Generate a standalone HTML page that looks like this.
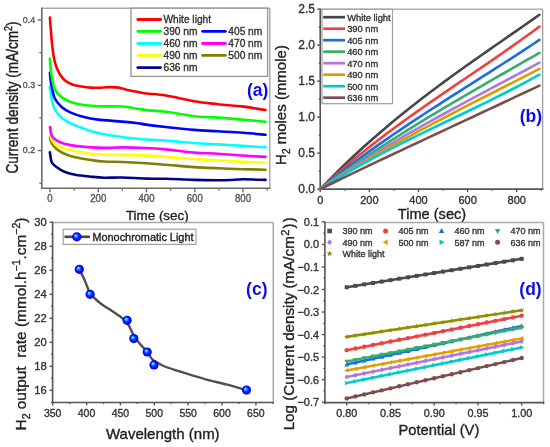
<!DOCTYPE html>
<html><head><meta charset="utf-8"><style>
html,body{margin:0;padding:0;background:#fff;}
body{width:550px;height:447px;overflow:hidden;}
svg{display:block;filter:blur(0.4px);font-family:"Liberation Sans", sans-serif;}
</style></head><body>
<svg width="550" height="447" viewBox="0 0 550 447">
<rect width="550" height="447" fill="#fff"/>
<g>
<line x1="41.8" y1="8.2" x2="269.8" y2="8.2" stroke="#a8a8a8" stroke-width="1.6"/>
<line x1="269.8" y1="8.2" x2="269.8" y2="188.3" stroke="#b0b0b0" stroke-width="1.6"/>
<line x1="41.8" y1="7.4" x2="41.8" y2="189.1" stroke="#6a6a6a" stroke-width="1.6"/>
<line x1="41" y1="188.3" x2="270.6" y2="188.3" stroke="#6a6a6a" stroke-width="1.6"/>
<line x1="37.8" y1="20" x2="41.8" y2="20" stroke="#6a6a6a" stroke-width="1.4"/>
<text x="35.1" y="22.6" font-size="8.8" fill="#555" stroke="#555" stroke-width="0.35" text-anchor="end" font-weight="normal" >0.4</text>
<line x1="37.8" y1="85.3" x2="41.8" y2="85.3" stroke="#6a6a6a" stroke-width="1.4"/>
<text x="35.1" y="87.9" font-size="8.8" fill="#555" stroke="#555" stroke-width="0.35" text-anchor="end" font-weight="normal" >0.3</text>
<line x1="37.8" y1="150.6" x2="41.8" y2="150.6" stroke="#6a6a6a" stroke-width="1.4"/>
<text x="35.1" y="153.2" font-size="8.8" fill="#555" stroke="#555" stroke-width="0.35" text-anchor="end" font-weight="normal" >0.2</text>
<line x1="39.3" y1="52.65" x2="41.8" y2="52.65" stroke="#6a6a6a" stroke-width="1.2"/>
<line x1="39.3" y1="117.95" x2="41.8" y2="117.95" stroke="#6a6a6a" stroke-width="1.2"/>
<line x1="39.3" y1="183.25" x2="41.8" y2="183.25" stroke="#6a6a6a" stroke-width="1.2"/>
<line x1="50" y1="188.3" x2="50" y2="192.3" stroke="#6a6a6a" stroke-width="1.4"/>
<g transform="translate(50,201.6) scale(1,1.15)"><text x="0" y="0" font-size="9.6" fill="#555" stroke="#555" stroke-width="0.35" text-anchor="middle" font-weight="normal" >0</text></g>
<line x1="98.25" y1="188.3" x2="98.25" y2="192.3" stroke="#6a6a6a" stroke-width="1.4"/>
<g transform="translate(98.25,201.6) scale(1,1.15)"><text x="0" y="0" font-size="9.6" fill="#555" stroke="#555" stroke-width="0.35" text-anchor="middle" font-weight="normal" >200</text></g>
<line x1="146.5" y1="188.3" x2="146.5" y2="192.3" stroke="#6a6a6a" stroke-width="1.4"/>
<g transform="translate(146.5,201.6) scale(1,1.15)"><text x="0" y="0" font-size="9.6" fill="#555" stroke="#555" stroke-width="0.35" text-anchor="middle" font-weight="normal" >400</text></g>
<line x1="194.75" y1="188.3" x2="194.75" y2="192.3" stroke="#6a6a6a" stroke-width="1.4"/>
<g transform="translate(194.75,201.6) scale(1,1.15)"><text x="0" y="0" font-size="9.6" fill="#555" stroke="#555" stroke-width="0.35" text-anchor="middle" font-weight="normal" >600</text></g>
<line x1="243" y1="188.3" x2="243" y2="192.3" stroke="#6a6a6a" stroke-width="1.4"/>
<g transform="translate(243,201.6) scale(1,1.15)"><text x="0" y="0" font-size="9.6" fill="#555" stroke="#555" stroke-width="0.35" text-anchor="middle" font-weight="normal" >800</text></g>
<line x1="74.12" y1="188.3" x2="74.12" y2="190.8" stroke="#6a6a6a" stroke-width="1.2"/>
<line x1="122.38" y1="188.3" x2="122.38" y2="190.8" stroke="#6a6a6a" stroke-width="1.2"/>
<line x1="170.62" y1="188.3" x2="170.62" y2="190.8" stroke="#6a6a6a" stroke-width="1.2"/>
<line x1="218.88" y1="188.3" x2="218.88" y2="190.8" stroke="#6a6a6a" stroke-width="1.2"/>
<line x1="267.12" y1="188.3" x2="267.12" y2="190.8" stroke="#6a6a6a" stroke-width="1.2"/>
<text x="157.3" y="219.5" font-size="13.4" fill="#222" stroke="#222" stroke-width="0.35" text-anchor="middle" font-weight="normal" >Time (sec)</text>
<text transform="translate(18.3,97.5) rotate(-90) scale(1,1.22)" font-size="13.6" fill="#222" stroke="#222" stroke-width="0.35" text-anchor="middle">Current density (mA/cm<tspan dy="-5" font-size="9">2</tspan><tspan dy="5">)</tspan></text>
<path d="M49.9 152.4C50.22 154.05 50.7 159.87 51.8 162.3C52.9 164.73 54.4 165.43 56.5 167C58.6 168.57 61.27 170.4 64.4 171.7C67.53 173 70.87 173.97 75.3 174.8C79.73 175.63 86.22 176.22 91 176.7C95.78 177.18 98.83 177.57 104 177.7C109.17 177.83 115 177.35 122 177.5C129 177.65 138.67 178.38 146 178.6C153.33 178.82 158 178.58 166 178.8C174 179.02 185.33 179.67 194 179.9C202.67 180.13 212 180.18 218 180.2C224 180.22 225.83 180.15 230 180C234.17 179.85 237.08 179.32 243 179.3C248.92 179.28 261.75 179.8 265.5 179.9" fill="none" stroke="#00008a" stroke-width="2.6" stroke-linecap="round" stroke-linejoin="round"/>
<path d="M50 136.9C50.3 138 50.72 141.48 51.8 143.5C52.88 145.52 54.4 147.3 56.5 149C58.6 150.7 61.27 152.32 64.4 153.7C67.53 155.08 70.87 156.25 75.3 157.3C79.73 158.35 86.22 159.3 91 160C95.78 160.7 98.83 161.17 104 161.5C109.17 161.83 115 161.7 122 162C129 162.3 138.67 162.83 146 163.3C153.33 163.77 158 164.17 166 164.8C174 165.43 185.33 166.52 194 167.1C202.67 167.68 209.83 167.95 218 168.3C226.17 168.65 235.08 168.97 243 169.2C250.92 169.43 261.75 169.62 265.5 169.7" fill="none" stroke="#808000" stroke-width="2.6" stroke-linecap="round" stroke-linejoin="round"/>
<path d="M50 132.2C50.3 133.43 50.72 137.45 51.8 139.6C52.88 141.75 54.4 143.62 56.5 145.1C58.6 146.58 61.27 147.47 64.4 148.5C67.53 149.53 70.87 150.43 75.3 151.3C79.73 152.17 86.22 153.12 91 153.7C95.78 154.28 98.83 154.6 104 154.8C109.17 155 115 154.78 122 154.9C129 155.02 138.67 155.17 146 155.5C153.33 155.83 158 156.32 166 156.9C174 157.48 185.33 158.42 194 159C202.67 159.58 209.83 159.92 218 160.4C226.17 160.88 235.08 161.5 243 161.9C250.92 162.3 261.75 162.65 265.5 162.8" fill="none" stroke="#ffff00" stroke-width="2.6" stroke-linecap="round" stroke-linejoin="round"/>
<path d="M49.95 127C50.26 128.45 50.71 133.47 51.8 135.7C52.89 137.93 54.4 139.05 56.5 140.4C58.6 141.75 61.27 142.88 64.4 143.8C67.53 144.72 70.87 145.3 75.3 145.9C79.73 146.5 86.22 147.07 91 147.4C95.78 147.73 98.83 147.9 104 147.9C109.17 147.9 115 147.38 122 147.4C129 147.42 138.67 147.67 146 148C153.33 148.33 158 148.63 166 149.4C174 150.17 185.33 151.88 194 152.6C202.67 153.32 209.83 153.22 218 153.7C226.17 154.18 235.08 154.97 243 155.5C250.92 156.03 261.75 156.67 265.5 156.9" fill="none" stroke="#ff00ff" stroke-width="2.6" stroke-linecap="round" stroke-linejoin="round"/>
<path d="M49.9 86.7C50.12 88.33 50.4 92.77 51.2 96.5C52 100.23 52.92 105.52 54.7 109.1C56.48 112.68 59.22 115.62 61.9 118C64.58 120.38 67.12 121.62 70.8 123.4C74.48 125.18 79.47 127.1 84 128.7C88.53 130.3 91.67 131.62 98 133C104.33 134.38 114 135.92 122 137C130 138.08 138.67 138.9 146 139.5C153.33 140.1 158 140.02 166 140.6C174 141.18 185.33 142.37 194 143C202.67 143.63 209.83 143.92 218 144.4C226.17 144.88 235.08 145.42 243 145.9C250.92 146.38 261.75 147.07 265.5 147.3" fill="none" stroke="#00ffff" stroke-width="2.6" stroke-linecap="round" stroke-linejoin="round"/>
<path d="M49.9 72.9C50.12 74.75 50.4 79.77 51.2 84C52 88.23 52.92 94.42 54.7 98.3C56.48 102.18 59.22 104.92 61.9 107.3C64.58 109.68 67.12 110.97 70.8 112.6C74.48 114.23 79.47 115.93 84 117.1C88.53 118.27 91.67 118.85 98 119.6C104.33 120.35 115.33 120.98 122 121.6C128.67 122.22 134 122.8 138 123.3C142 123.8 141.33 123.98 146 124.6C150.67 125.22 158 126.12 166 127C174 127.88 185.33 129.18 194 129.9C202.67 130.62 209.83 130.82 218 131.3C226.17 131.78 235.08 132.22 243 132.8C250.92 133.38 261.75 134.47 265.5 134.8" fill="none" stroke="#0000ff" stroke-width="2.6" stroke-linecap="round" stroke-linejoin="round"/>
<path d="M49.9 58.6C50.12 61.05 50.4 68.17 51.2 73.3C52 78.43 52.92 85.38 54.7 89.4C56.48 93.42 59.22 95.32 61.9 97.4C64.58 99.48 67.12 100.63 70.8 101.9C74.48 103.17 79.47 104.27 84 105C88.53 105.73 91.67 106.05 98 106.3C104.33 106.55 115.33 106.08 122 106.5C128.67 106.92 134 108.2 138 108.8C142 109.4 141.33 109.6 146 110.1C150.67 110.6 158 110.78 166 111.8C174 112.82 185.33 115.23 194 116.2C202.67 117.17 209.83 117.02 218 117.6C226.17 118.18 235.08 119.02 243 119.7C250.92 120.38 261.75 121.37 265.5 121.7" fill="none" stroke="#00ff00" stroke-width="2.6" stroke-linecap="round" stroke-linejoin="round"/>
<path d="M49.9 17.6C50.08 19.98 50.6 27.13 51 31.9C51.4 36.67 51.78 41.73 52.3 46.2C52.82 50.67 53.37 55.12 54.1 58.7C54.83 62.28 55.67 65 56.7 67.7C57.73 70.4 58.8 72.67 60.3 74.9C61.8 77.13 63.62 79.47 65.7 81.1C67.78 82.73 70.12 83.8 72.8 84.7C75.48 85.6 78.82 86.02 81.8 86.5C84.78 86.98 88 87.38 90.7 87.6C93.4 87.82 94.98 87.88 98 87.8C101.02 87.72 105.8 87.17 108.8 87.1C111.8 87.03 113.8 87.17 116 87.4C118.2 87.63 119.67 87.98 122 88.5C124.33 89.02 127.33 89.92 130 90.5C132.67 91.08 135.33 91.5 138 92C140.67 92.5 141.33 92.92 146 93.5C150.67 94.08 158 94.2 166 95.5C174 96.8 185.33 99.85 194 101.3C202.67 102.75 209.83 103.32 218 104.2C226.17 105.08 235.08 105.63 243 106.6C250.92 107.57 261.75 109.43 265.5 110" fill="none" stroke="#ff0000" stroke-width="2.6" stroke-linecap="round" stroke-linejoin="round"/>
<rect x="131" y="8.2" width="136.6" height="68.2" fill="#fff" stroke="#9a9a9a" stroke-width="1.4"/>
<line x1="137.8" y1="19.5" x2="160.6" y2="19.5" stroke="#ff0000" stroke-width="2.8" stroke-linecap="round"/>
<text x="163.5" y="23.1" font-size="10.2" fill="#333" stroke="#333" stroke-width="0.35" text-anchor="start" font-weight="normal" >White light</text>
<line x1="137.8" y1="31.3" x2="160.6" y2="31.3" stroke="#00ff00" stroke-width="2.8" stroke-linecap="round"/>
<text x="163.5" y="34.9" font-size="10.2" fill="#333" stroke="#333" stroke-width="0.35" text-anchor="start" font-weight="normal" >390 nm</text>
<line x1="202.6" y1="31.3" x2="225.4" y2="31.3" stroke="#0000ff" stroke-width="2.8" stroke-linecap="round"/>
<text x="228.3" y="34.9" font-size="10.2" fill="#333" stroke="#333" stroke-width="0.35" text-anchor="start" font-weight="normal" >405 nm</text>
<line x1="137.8" y1="43.5" x2="160.6" y2="43.5" stroke="#00ffff" stroke-width="2.8" stroke-linecap="round"/>
<text x="163.5" y="47.1" font-size="10.2" fill="#333" stroke="#333" stroke-width="0.35" text-anchor="start" font-weight="normal" >460 nm</text>
<line x1="202.6" y1="43.5" x2="225.4" y2="43.5" stroke="#ff00ff" stroke-width="2.8" stroke-linecap="round"/>
<text x="228.3" y="47.1" font-size="10.2" fill="#333" stroke="#333" stroke-width="0.35" text-anchor="start" font-weight="normal" >470 nm</text>
<line x1="137.8" y1="55.4" x2="160.6" y2="55.4" stroke="#ffff00" stroke-width="2.8" stroke-linecap="round"/>
<text x="163.5" y="59" font-size="10.2" fill="#333" stroke="#333" stroke-width="0.35" text-anchor="start" font-weight="normal" >490 nm</text>
<line x1="202.6" y1="55.4" x2="225.4" y2="55.4" stroke="#808000" stroke-width="2.8" stroke-linecap="round"/>
<text x="228.3" y="59" font-size="10.2" fill="#333" stroke="#333" stroke-width="0.35" text-anchor="start" font-weight="normal" >500 nm</text>
<line x1="137.8" y1="67.6" x2="160.6" y2="67.6" stroke="#00008a" stroke-width="2.8" stroke-linecap="round"/>
<text x="163.5" y="71.2" font-size="10.2" fill="#333" stroke="#333" stroke-width="0.35" text-anchor="start" font-weight="normal" >636 nm</text>
<text x="257.7" y="95.8" font-size="17.5" fill="#0c0ce8" stroke="#0c0ce8" stroke-width="0" text-anchor="middle" font-weight="bold" >(a)</text>
</g>
<line x1="320.2" y1="9.3" x2="542.6" y2="9.3" stroke="#b0b0b0" stroke-width="1.6"/>
<line x1="542.6" y1="9.3" x2="542.6" y2="189.1" stroke="#a0a0a0" stroke-width="1.4"/>
<line x1="320.2" y1="8.5" x2="320.2" y2="189.9" stroke="#555" stroke-width="1.6"/>
<line x1="319.4" y1="189.1" x2="543.4" y2="189.1" stroke="#555" stroke-width="1.6"/>
<line x1="317.2" y1="189.1" x2="320.2" y2="189.1" stroke="#555" stroke-width="1.4"/>
<text x="315" y="193.2" font-size="12" fill="#333" stroke="#333" stroke-width="0.35" text-anchor="end" font-weight="normal" >0.0</text>
<line x1="317.2" y1="153.1" x2="320.2" y2="153.1" stroke="#555" stroke-width="1.4"/>
<text x="315" y="157.2" font-size="12" fill="#333" stroke="#333" stroke-width="0.35" text-anchor="end" font-weight="normal" >0.5</text>
<line x1="317.2" y1="117.1" x2="320.2" y2="117.1" stroke="#555" stroke-width="1.4"/>
<text x="315" y="121.2" font-size="12" fill="#333" stroke="#333" stroke-width="0.35" text-anchor="end" font-weight="normal" >1.0</text>
<line x1="317.2" y1="81.1" x2="320.2" y2="81.1" stroke="#555" stroke-width="1.4"/>
<text x="315" y="85.2" font-size="12" fill="#333" stroke="#333" stroke-width="0.35" text-anchor="end" font-weight="normal" >1.5</text>
<line x1="317.2" y1="45.1" x2="320.2" y2="45.1" stroke="#555" stroke-width="1.4"/>
<text x="315" y="49.2" font-size="12" fill="#333" stroke="#333" stroke-width="0.35" text-anchor="end" font-weight="normal" >2.0</text>
<line x1="317.2" y1="9.1" x2="320.2" y2="9.1" stroke="#555" stroke-width="1.4"/>
<text x="315" y="13.2" font-size="12" fill="#333" stroke="#333" stroke-width="0.35" text-anchor="end" font-weight="normal" >2.5</text>
<line x1="318.6" y1="171.1" x2="320.2" y2="171.1" stroke="#555" stroke-width="1.2"/>
<line x1="318.6" y1="135.1" x2="320.2" y2="135.1" stroke="#555" stroke-width="1.2"/>
<line x1="318.6" y1="99.1" x2="320.2" y2="99.1" stroke="#555" stroke-width="1.2"/>
<line x1="318.6" y1="63.1" x2="320.2" y2="63.1" stroke="#555" stroke-width="1.2"/>
<line x1="318.6" y1="27.1" x2="320.2" y2="27.1" stroke="#555" stroke-width="1.2"/>
<line x1="320.3" y1="189.1" x2="320.3" y2="192.1" stroke="#555" stroke-width="1.4"/>
<text x="320.3" y="203.6" font-size="11" fill="#333" stroke="#333" stroke-width="0.35" text-anchor="middle" font-weight="normal" >0</text>
<line x1="369.4" y1="189.1" x2="369.4" y2="192.1" stroke="#555" stroke-width="1.4"/>
<text x="369.4" y="203.6" font-size="11" fill="#333" stroke="#333" stroke-width="0.35" text-anchor="middle" font-weight="normal" >200</text>
<line x1="418.5" y1="189.1" x2="418.5" y2="192.1" stroke="#555" stroke-width="1.4"/>
<text x="418.5" y="203.6" font-size="11" fill="#333" stroke="#333" stroke-width="0.35" text-anchor="middle" font-weight="normal" >400</text>
<line x1="467.6" y1="189.1" x2="467.6" y2="192.1" stroke="#555" stroke-width="1.4"/>
<text x="467.6" y="203.6" font-size="11" fill="#333" stroke="#333" stroke-width="0.35" text-anchor="middle" font-weight="normal" >600</text>
<line x1="516.7" y1="189.1" x2="516.7" y2="192.1" stroke="#555" stroke-width="1.4"/>
<text x="516.7" y="203.6" font-size="11" fill="#333" stroke="#333" stroke-width="0.35" text-anchor="middle" font-weight="normal" >800</text>
<line x1="344.85" y1="189.1" x2="344.85" y2="190.7" stroke="#555" stroke-width="1.2"/>
<line x1="393.95" y1="189.1" x2="393.95" y2="190.7" stroke="#555" stroke-width="1.2"/>
<line x1="443.05" y1="189.1" x2="443.05" y2="190.7" stroke="#555" stroke-width="1.2"/>
<line x1="492.15" y1="189.1" x2="492.15" y2="190.7" stroke="#555" stroke-width="1.2"/>
<line x1="541.25" y1="189.1" x2="541.25" y2="190.7" stroke="#555" stroke-width="1.2"/>
<text x="432" y="219.1" font-size="14.6" fill="#222" stroke="#222" stroke-width="0.35" text-anchor="middle" font-weight="normal" >Time (sec)</text>
<text transform="translate(286.3,105) rotate(-90)" font-size="15" fill="#222" stroke="#222" stroke-width="0.35" text-anchor="middle">H<tspan dy="4" font-size="10">2</tspan><tspan dy="-4"> moles (mmole)</tspan></text>
<path d="M320.3 189.1L327.6 181.55L334.91 174.19L342.21 167.02L349.51 160.02L356.82 153.19L364.12 146.53L371.43 140.01L378.73 133.65L386.03 127.42L393.34 121.32L400.64 115.35L407.94 109.49L415.25 103.74L422.55 98.08L429.85 92.52L437.16 87.04L444.46 81.64L451.77 76.31L459.07 71.03L466.37 65.81L473.68 60.64L480.98 55.5L488.28 50.39L495.59 45.3L502.89 40.23L510.19 35.16L517.5 30.09L524.8 25.01L532.11 19.91L539.41 14.79" fill="none" stroke="#474747" stroke-width="2.6" stroke-linecap="round" stroke-linejoin="round"/>
<path d="M320.3 189.1L327.6 182.36L334.91 175.8L342.21 169.41L349.51 163.18L356.82 157.11L364.12 151.18L371.43 145.38L378.73 139.7L386.03 134.14L393.34 128.69L400.64 123.33L407.94 118.05L415.25 112.85L422.55 107.71L429.85 102.63L437.16 97.6L444.46 92.6L451.77 87.63L459.07 82.68L466.37 77.74L473.68 72.79L480.98 67.83L488.28 62.85L495.59 57.84L502.89 52.79L510.19 47.69L517.5 42.53L524.8 37.31L532.11 32L539.41 26.6" fill="none" stroke="#f14040" stroke-width="2.6" stroke-linecap="round" stroke-linejoin="round"/>
<path d="M320.3 189.1L327.6 183.15L334.91 177.32L342.21 171.62L349.51 166.03L356.82 160.54L364.12 155.16L371.43 149.88L378.73 144.68L386.03 139.57L393.34 134.53L400.64 129.56L407.94 124.65L415.25 119.81L422.55 115.01L429.85 110.26L437.16 105.54L444.46 100.85L451.77 96.19L459.07 91.55L466.37 86.92L473.68 82.3L480.98 77.68L488.28 73.05L495.59 68.4L502.89 63.74L510.19 59.05L517.5 54.33L524.8 49.57L532.11 44.76L539.41 39.9" fill="none" stroke="#1a6fdf" stroke-width="2.6" stroke-linecap="round" stroke-linejoin="round"/>
<path d="M320.3 189.1L327.6 183.76L334.91 178.5L342.21 173.32L349.51 168.22L356.82 163.2L364.12 158.25L371.43 153.37L378.73 148.56L386.03 143.81L393.34 139.12L400.64 134.49L407.94 129.91L415.25 125.38L422.55 120.9L429.85 116.46L437.16 112.06L444.46 107.7L451.77 103.37L459.07 99.07L466.37 94.8L473.68 90.56L480.98 86.33L488.28 82.13L495.59 77.93L502.89 73.75L510.19 69.58L517.5 65.41L524.8 61.24L532.11 57.07L539.41 52.9" fill="none" stroke="#37ad6b" stroke-width="2.6" stroke-linecap="round" stroke-linejoin="round"/>
<path d="M320.3 189.1L327.6 184.08L334.91 179.15L342.21 174.31L349.51 169.54L356.82 164.86L364.12 160.26L371.43 155.72L378.73 151.25L386.03 146.85L393.34 142.51L400.64 138.22L407.94 133.99L415.25 129.8L422.55 125.67L429.85 121.57L437.16 117.51L444.46 113.49L451.77 109.5L459.07 105.54L466.37 101.6L473.68 97.68L480.98 93.78L488.28 89.89L495.59 86L502.89 82.13L510.19 78.25L517.5 74.38L524.8 70.5L532.11 66.6L539.41 62.7" fill="none" stroke="#b177de" stroke-width="2.6" stroke-linecap="round" stroke-linejoin="round"/>
<path d="M320.3 189.1L327.6 184.4L334.91 179.78L342.21 175.23L349.51 170.76L356.82 166.35L364.12 162L371.43 157.72L378.73 153.5L386.03 149.33L393.34 145.21L400.64 141.14L407.94 137.12L415.25 133.14L422.55 129.19L429.85 125.29L437.16 121.42L444.46 117.57L451.77 113.76L459.07 109.97L466.37 106.19L473.68 102.44L480.98 98.7L488.28 94.97L495.59 91.25L502.89 87.53L510.19 83.81L517.5 80.09L524.8 76.37L532.11 72.64L539.41 68.9" fill="none" stroke="#d69e00" stroke-width="2.6" stroke-linecap="round" stroke-linejoin="round"/>
<path d="M320.3 189.1L327.6 184.46L334.91 179.94L342.21 175.55L349.51 171.27L356.82 167.1L364.12 163.03L371.43 159.05L378.73 155.15L386.03 151.33L393.34 147.57L400.64 143.87L407.94 140.23L415.25 136.63L422.55 133.06L429.85 129.53L437.16 126.01L444.46 122.51L451.77 119.01L459.07 115.51L466.37 112L473.68 108.48L480.98 104.92L488.28 101.33L495.59 97.7L502.89 94.02L510.19 90.28L517.5 86.48L524.8 82.6L532.11 78.65L539.41 74.6" fill="none" stroke="#00cbcc" stroke-width="2.6" stroke-linecap="round" stroke-linejoin="round"/>
<path d="M320.3 189.1L327.6 185.53L334.91 181.97L342.21 178.43L349.51 174.91L356.82 171.4L364.12 167.9L371.43 164.42L378.73 160.95L386.03 157.49L393.34 154.04L400.64 150.59L407.94 147.16L415.25 143.73L422.55 140.31L429.85 136.9L437.16 133.48L444.46 130.07L451.77 126.67L459.07 123.26L466.37 119.86L473.68 116.45L480.98 113.04L488.28 109.63L495.59 106.22L502.89 102.8L510.19 99.37L517.5 95.94L524.8 92.5L532.11 89.06L539.41 85.6" fill="none" stroke="#7d4e4e" stroke-width="2.6" stroke-linecap="round" stroke-linejoin="round"/>
<rect x="322" y="9.3" width="70.5" height="94.4" fill="#fff" stroke="#a0a0a0" stroke-width="1.2"/>
<line x1="323.2" y1="17.2" x2="345" y2="17.2" stroke="#474747" stroke-width="2.7"/>
<text x="347.2" y="20.6" font-size="9.3" fill="#333" stroke="#333" stroke-width="0.35" text-anchor="start" font-weight="normal" >White light</text>
<line x1="323.2" y1="28.7" x2="345" y2="28.7" stroke="#f14040" stroke-width="2.7"/>
<text x="347.2" y="32.1" font-size="9.3" fill="#333" stroke="#333" stroke-width="0.35" text-anchor="start" font-weight="normal" >390 nm</text>
<line x1="323.2" y1="40.2" x2="345" y2="40.2" stroke="#1a6fdf" stroke-width="2.7"/>
<text x="347.2" y="43.6" font-size="9.3" fill="#333" stroke="#333" stroke-width="0.35" text-anchor="start" font-weight="normal" >405 nm</text>
<line x1="323.2" y1="51.7" x2="345" y2="51.7" stroke="#37ad6b" stroke-width="2.7"/>
<text x="347.2" y="55.1" font-size="9.3" fill="#333" stroke="#333" stroke-width="0.35" text-anchor="start" font-weight="normal" >460 nm</text>
<line x1="323.2" y1="63.2" x2="345" y2="63.2" stroke="#b177de" stroke-width="2.7"/>
<text x="347.2" y="66.6" font-size="9.3" fill="#333" stroke="#333" stroke-width="0.35" text-anchor="start" font-weight="normal" >470 nm</text>
<line x1="323.2" y1="74.7" x2="345" y2="74.7" stroke="#d69e00" stroke-width="2.7"/>
<text x="347.2" y="78.1" font-size="9.3" fill="#333" stroke="#333" stroke-width="0.35" text-anchor="start" font-weight="normal" >490 nm</text>
<line x1="323.2" y1="86.2" x2="345" y2="86.2" stroke="#00cbcc" stroke-width="2.7"/>
<text x="347.2" y="89.6" font-size="9.3" fill="#333" stroke="#333" stroke-width="0.35" text-anchor="start" font-weight="normal" >500 nm</text>
<line x1="323.2" y1="97.7" x2="345" y2="97.7" stroke="#7d4e4e" stroke-width="2.7"/>
<text x="347.2" y="101.1" font-size="9.3" fill="#333" stroke="#333" stroke-width="0.35" text-anchor="start" font-weight="normal" >636 nm</text>
<text x="530.9" y="122" font-size="17.5" fill="#0c0ce8" stroke="#0c0ce8" stroke-width="0" text-anchor="middle" font-weight="bold" >(b)</text>
<line x1="52.6" y1="222.4" x2="273.3" y2="222.4" stroke="#a8a8a8" stroke-width="1.5"/>
<line x1="273.3" y1="222.4" x2="273.3" y2="402.5" stroke="#a8a8a8" stroke-width="1.5"/>
<line x1="52.6" y1="221.6" x2="52.6" y2="403.3" stroke="#555" stroke-width="1.6"/>
<line x1="51.8" y1="402.5" x2="274.1" y2="402.5" stroke="#555" stroke-width="1.6"/>
<line x1="49.6" y1="390.3" x2="52.6" y2="390.3" stroke="#555" stroke-width="1.4"/>
<text x="46.8" y="394.2" font-size="11.2" fill="#333" stroke="#333" stroke-width="0.35" text-anchor="end" font-weight="normal" >16</text>
<line x1="49.6" y1="366.3" x2="52.6" y2="366.3" stroke="#555" stroke-width="1.4"/>
<text x="46.8" y="370.2" font-size="11.2" fill="#333" stroke="#333" stroke-width="0.35" text-anchor="end" font-weight="normal" >18</text>
<line x1="49.6" y1="342.3" x2="52.6" y2="342.3" stroke="#555" stroke-width="1.4"/>
<text x="46.8" y="346.2" font-size="11.2" fill="#333" stroke="#333" stroke-width="0.35" text-anchor="end" font-weight="normal" >20</text>
<line x1="49.6" y1="318.3" x2="52.6" y2="318.3" stroke="#555" stroke-width="1.4"/>
<text x="46.8" y="322.2" font-size="11.2" fill="#333" stroke="#333" stroke-width="0.35" text-anchor="end" font-weight="normal" >22</text>
<line x1="49.6" y1="294.3" x2="52.6" y2="294.3" stroke="#555" stroke-width="1.4"/>
<text x="46.8" y="298.2" font-size="11.2" fill="#333" stroke="#333" stroke-width="0.35" text-anchor="end" font-weight="normal" >24</text>
<line x1="49.6" y1="270.3" x2="52.6" y2="270.3" stroke="#555" stroke-width="1.4"/>
<text x="46.8" y="274.2" font-size="11.2" fill="#333" stroke="#333" stroke-width="0.35" text-anchor="end" font-weight="normal" >26</text>
<line x1="49.6" y1="246.3" x2="52.6" y2="246.3" stroke="#555" stroke-width="1.4"/>
<text x="46.8" y="250.2" font-size="11.2" fill="#333" stroke="#333" stroke-width="0.35" text-anchor="end" font-weight="normal" >28</text>
<line x1="49.6" y1="222.3" x2="52.6" y2="222.3" stroke="#555" stroke-width="1.4"/>
<text x="46.8" y="226.2" font-size="11.2" fill="#333" stroke="#333" stroke-width="0.35" text-anchor="end" font-weight="normal" >30</text>
<line x1="51" y1="402.3" x2="52.6" y2="402.3" stroke="#555" stroke-width="1.2"/>
<line x1="51" y1="378.3" x2="52.6" y2="378.3" stroke="#555" stroke-width="1.2"/>
<line x1="51" y1="354.3" x2="52.6" y2="354.3" stroke="#555" stroke-width="1.2"/>
<line x1="51" y1="330.3" x2="52.6" y2="330.3" stroke="#555" stroke-width="1.2"/>
<line x1="51" y1="306.3" x2="52.6" y2="306.3" stroke="#555" stroke-width="1.2"/>
<line x1="51" y1="282.3" x2="52.6" y2="282.3" stroke="#555" stroke-width="1.2"/>
<line x1="51" y1="258.3" x2="52.6" y2="258.3" stroke="#555" stroke-width="1.2"/>
<line x1="51" y1="234.3" x2="52.6" y2="234.3" stroke="#555" stroke-width="1.2"/>
<line x1="52.7" y1="402.5" x2="52.7" y2="405.5" stroke="#555" stroke-width="1.4"/>
<text x="52.7" y="416.5" font-size="10.5" fill="#333" stroke="#333" stroke-width="0.35" text-anchor="middle" font-weight="normal" >350</text>
<line x1="86.56" y1="402.5" x2="86.56" y2="405.5" stroke="#555" stroke-width="1.4"/>
<text x="86.56" y="416.5" font-size="10.5" fill="#333" stroke="#333" stroke-width="0.35" text-anchor="middle" font-weight="normal" >400</text>
<line x1="120.43" y1="402.5" x2="120.43" y2="405.5" stroke="#555" stroke-width="1.4"/>
<text x="120.43" y="416.5" font-size="10.5" fill="#333" stroke="#333" stroke-width="0.35" text-anchor="middle" font-weight="normal" >450</text>
<line x1="154.3" y1="402.5" x2="154.3" y2="405.5" stroke="#555" stroke-width="1.4"/>
<text x="154.3" y="416.5" font-size="10.5" fill="#333" stroke="#333" stroke-width="0.35" text-anchor="middle" font-weight="normal" >500</text>
<line x1="188.16" y1="402.5" x2="188.16" y2="405.5" stroke="#555" stroke-width="1.4"/>
<text x="188.16" y="416.5" font-size="10.5" fill="#333" stroke="#333" stroke-width="0.35" text-anchor="middle" font-weight="normal" >550</text>
<line x1="222.03" y1="402.5" x2="222.03" y2="405.5" stroke="#555" stroke-width="1.4"/>
<text x="222.03" y="416.5" font-size="10.5" fill="#333" stroke="#333" stroke-width="0.35" text-anchor="middle" font-weight="normal" >600</text>
<line x1="255.89" y1="402.5" x2="255.89" y2="405.5" stroke="#555" stroke-width="1.4"/>
<text x="255.89" y="416.5" font-size="10.5" fill="#333" stroke="#333" stroke-width="0.35" text-anchor="middle" font-weight="normal" >650</text>
<line x1="69.63" y1="402.5" x2="69.63" y2="404.1" stroke="#555" stroke-width="1.2"/>
<line x1="103.5" y1="402.5" x2="103.5" y2="404.1" stroke="#555" stroke-width="1.2"/>
<line x1="137.36" y1="402.5" x2="137.36" y2="404.1" stroke="#555" stroke-width="1.2"/>
<line x1="171.23" y1="402.5" x2="171.23" y2="404.1" stroke="#555" stroke-width="1.2"/>
<line x1="205.09" y1="402.5" x2="205.09" y2="404.1" stroke="#555" stroke-width="1.2"/>
<line x1="238.96" y1="402.5" x2="238.96" y2="404.1" stroke="#555" stroke-width="1.2"/>
<line x1="272.82" y1="402.5" x2="272.82" y2="404.1" stroke="#555" stroke-width="1.2"/>
<text x="162.8" y="438.8" font-size="15" fill="#222" stroke="#222" stroke-width="0.35" text-anchor="middle" font-weight="normal" >Wavelength (nm)</text>
<text xml:space="preserve" transform="translate(25.8,324) rotate(-90)" font-size="15.4" fill="#222" stroke="#222" stroke-width="0.35" text-anchor="middle">H<tspan dy="4" font-size="10.5">2</tspan><tspan dy="-4"> output  rate (mmol.h</tspan><tspan dy="-5.5" font-size="10.5">−1</tspan><tspan dy="5.5">.cm</tspan><tspan dy="-5.5" font-size="10.5">−2</tspan><tspan dy="5.5">)</tspan></text>
<path d="M79.3 269.3C80.18 271.08 82.8 276.05 84.6 280C86.4 283.95 87.53 289.17 90.1 293C92.67 296.83 96.35 300 100 303C103.65 306 108.33 308.5 112 311C115.67 313.5 119.33 315.83 122 318C124.67 320.17 126 321 128 324C130 327 132 332.67 134 336C136 339.33 137.8 341.33 140 344C142.2 346.67 145.2 349.5 147.2 352C149.2 354.5 150.2 357.17 152 359C153.8 360.83 155.67 361.67 158 363C160.33 364.33 161.73 365.38 166 367C170.27 368.62 177.02 370.65 183.6 372.7C190.18 374.75 198.22 377.3 205.5 379.3C212.78 381.3 220.47 382.87 227.3 384.7C234.13 386.53 243.3 389.37 246.5 390.3" fill="none" stroke="#505050" stroke-width="2.4" stroke-linecap="round"/>
<defs><radialGradient id="ball" cx="0.5" cy="0.5" r="0.5" fx="0.36" fy="0.34"><stop offset="0" stop-color="#b0ffff"/><stop offset="0.22" stop-color="#30c0ff"/><stop offset="0.5" stop-color="#0030ff"/><stop offset="0.9" stop-color="#0000f0"/><stop offset="1" stop-color="#0000c0"/></radialGradient></defs>
<circle cx="79.3" cy="269.3" r="4.6" fill="url(#ball)"/>
<circle cx="90.1" cy="294.3" r="4.6" fill="url(#ball)"/>
<circle cx="127.1" cy="320.3" r="4.6" fill="url(#ball)"/>
<circle cx="133.8" cy="338.6" r="4.6" fill="url(#ball)"/>
<circle cx="147.2" cy="352" r="4.6" fill="url(#ball)"/>
<circle cx="154" cy="364.9" r="4.6" fill="url(#ball)"/>
<circle cx="246.5" cy="390.1" r="4.6" fill="url(#ball)"/>
<rect x="63.2" y="229.2" width="132.8" height="15.2" fill="#fff" stroke="#a0a0a0" stroke-width="1.2"/>
<line x1="64.5" y1="236.8" x2="89.9" y2="236.8" stroke="#474747" stroke-width="2.6"/>
<circle cx="76.8" cy="236.8" r="4.6" fill="url(#ball)"/>
<text x="92.4" y="241.2" font-size="10.9" fill="#222" stroke="#222" stroke-width="0.35" text-anchor="start" font-weight="normal" >Monochromatic Light</text>
<text x="256.8" y="295" font-size="17.5" fill="#0c0ce8" stroke="#0c0ce8" stroke-width="0" text-anchor="middle" font-weight="bold" >(c)</text>
<line x1="324.9" y1="222.4" x2="543.5" y2="222.4" stroke="#a8a8a8" stroke-width="1.5"/>
<line x1="543.5" y1="222.4" x2="543.5" y2="402.6" stroke="#a8a8a8" stroke-width="1.5"/>
<line x1="324.9" y1="221.6" x2="324.9" y2="403.4" stroke="#555" stroke-width="1.6"/>
<line x1="324.1" y1="402.6" x2="544.3" y2="402.6" stroke="#555" stroke-width="1.6"/>
<line x1="321.9" y1="221.85" x2="324.9" y2="221.85" stroke="#555" stroke-width="1.4"/>
<text x="319.1" y="225.85" font-size="11" fill="#333" stroke="#333" stroke-width="0.35" text-anchor="end" font-weight="normal" >0.1</text>
<line x1="321.9" y1="244.4" x2="324.9" y2="244.4" stroke="#555" stroke-width="1.4"/>
<text x="319.1" y="248.4" font-size="11" fill="#333" stroke="#333" stroke-width="0.35" text-anchor="end" font-weight="normal" >0.0</text>
<line x1="321.9" y1="266.95" x2="324.9" y2="266.95" stroke="#555" stroke-width="1.4"/>
<text x="319.1" y="270.95" font-size="11" fill="#333" stroke="#333" stroke-width="0.35" text-anchor="end" font-weight="normal" >−0.1</text>
<line x1="321.9" y1="289.5" x2="324.9" y2="289.5" stroke="#555" stroke-width="1.4"/>
<text x="319.1" y="293.5" font-size="11" fill="#333" stroke="#333" stroke-width="0.35" text-anchor="end" font-weight="normal" >−0.2</text>
<line x1="321.9" y1="312.05" x2="324.9" y2="312.05" stroke="#555" stroke-width="1.4"/>
<text x="319.1" y="316.05" font-size="11" fill="#333" stroke="#333" stroke-width="0.35" text-anchor="end" font-weight="normal" >−0.3</text>
<line x1="321.9" y1="334.6" x2="324.9" y2="334.6" stroke="#555" stroke-width="1.4"/>
<text x="319.1" y="338.6" font-size="11" fill="#333" stroke="#333" stroke-width="0.35" text-anchor="end" font-weight="normal" >−0.4</text>
<line x1="321.9" y1="357.15" x2="324.9" y2="357.15" stroke="#555" stroke-width="1.4"/>
<text x="319.1" y="361.15" font-size="11" fill="#333" stroke="#333" stroke-width="0.35" text-anchor="end" font-weight="normal" >−0.5</text>
<line x1="321.9" y1="379.7" x2="324.9" y2="379.7" stroke="#555" stroke-width="1.4"/>
<text x="319.1" y="383.7" font-size="11" fill="#333" stroke="#333" stroke-width="0.35" text-anchor="end" font-weight="normal" >−0.6</text>
<line x1="321.9" y1="402.25" x2="324.9" y2="402.25" stroke="#555" stroke-width="1.4"/>
<text x="319.1" y="406.25" font-size="11" fill="#333" stroke="#333" stroke-width="0.35" text-anchor="end" font-weight="normal" >−0.7</text>
<line x1="323.3" y1="233.12" x2="324.9" y2="233.12" stroke="#555" stroke-width="1.2"/>
<line x1="323.3" y1="255.68" x2="324.9" y2="255.68" stroke="#555" stroke-width="1.2"/>
<line x1="323.3" y1="278.23" x2="324.9" y2="278.23" stroke="#555" stroke-width="1.2"/>
<line x1="323.3" y1="300.78" x2="324.9" y2="300.78" stroke="#555" stroke-width="1.2"/>
<line x1="323.3" y1="323.33" x2="324.9" y2="323.33" stroke="#555" stroke-width="1.2"/>
<line x1="323.3" y1="345.88" x2="324.9" y2="345.88" stroke="#555" stroke-width="1.2"/>
<line x1="323.3" y1="368.43" x2="324.9" y2="368.43" stroke="#555" stroke-width="1.2"/>
<line x1="323.3" y1="390.98" x2="324.9" y2="390.98" stroke="#555" stroke-width="1.2"/>
<line x1="346.7" y1="402.6" x2="346.7" y2="405.6" stroke="#555" stroke-width="1.4"/>
<text x="346.7" y="417.2" font-size="10.8" fill="#333" stroke="#333" stroke-width="0.35" text-anchor="middle" font-weight="normal" >0.80</text>
<line x1="390.45" y1="402.6" x2="390.45" y2="405.6" stroke="#555" stroke-width="1.4"/>
<text x="390.45" y="417.2" font-size="10.8" fill="#333" stroke="#333" stroke-width="0.35" text-anchor="middle" font-weight="normal" >0.85</text>
<line x1="434.2" y1="402.6" x2="434.2" y2="405.6" stroke="#555" stroke-width="1.4"/>
<text x="434.2" y="417.2" font-size="10.8" fill="#333" stroke="#333" stroke-width="0.35" text-anchor="middle" font-weight="normal" >0.90</text>
<line x1="477.95" y1="402.6" x2="477.95" y2="405.6" stroke="#555" stroke-width="1.4"/>
<text x="477.95" y="417.2" font-size="10.8" fill="#333" stroke="#333" stroke-width="0.35" text-anchor="middle" font-weight="normal" >0.95</text>
<line x1="521.7" y1="402.6" x2="521.7" y2="405.6" stroke="#555" stroke-width="1.4"/>
<text x="521.7" y="417.2" font-size="10.8" fill="#333" stroke="#333" stroke-width="0.35" text-anchor="middle" font-weight="normal" >1.00</text>
<line x1="324.82" y1="402.6" x2="324.82" y2="404.2" stroke="#555" stroke-width="1.2"/>
<line x1="368.57" y1="402.6" x2="368.57" y2="404.2" stroke="#555" stroke-width="1.2"/>
<line x1="412.32" y1="402.6" x2="412.32" y2="404.2" stroke="#555" stroke-width="1.2"/>
<line x1="456.07" y1="402.6" x2="456.07" y2="404.2" stroke="#555" stroke-width="1.2"/>
<line x1="499.82" y1="402.6" x2="499.82" y2="404.2" stroke="#555" stroke-width="1.2"/>
<line x1="543.57" y1="402.6" x2="543.57" y2="404.2" stroke="#555" stroke-width="1.2"/>
<text x="438.9" y="434.9" font-size="14.7" fill="#222" stroke="#222" stroke-width="0.35" text-anchor="middle" font-weight="normal" >Potential (V)</text>
<text transform="translate(294,323.8) rotate(-90)" font-size="15.2" fill="#222" stroke="#222" stroke-width="0.35" text-anchor="middle">Log (Current density (mA/cm<tspan dy="-5.5" dx="0.6" font-size="11.2">2</tspan><tspan dy="5.5" dx="1">)</tspan><tspan dx="1">)</tspan></text>
<line x1="346.7" y1="287.25" x2="521.7" y2="258.83" stroke="#4a4a4a" stroke-width="2.6"/>
<rect x="344.7" y="285.25" width="4" height="4" fill="#4a4a4a"/>
<rect x="353.45" y="283.82" width="4" height="4" fill="#4a4a4a"/>
<rect x="362.2" y="282.4" width="4" height="4" fill="#4a4a4a"/>
<rect x="370.95" y="280.98" width="4" height="4" fill="#4a4a4a"/>
<rect x="379.7" y="279.56" width="4" height="4" fill="#4a4a4a"/>
<rect x="388.45" y="278.14" width="4" height="4" fill="#4a4a4a"/>
<rect x="397.2" y="276.72" width="4" height="4" fill="#4a4a4a"/>
<rect x="405.95" y="275.3" width="4" height="4" fill="#4a4a4a"/>
<rect x="414.7" y="273.88" width="4" height="4" fill="#4a4a4a"/>
<rect x="423.45" y="272.46" width="4" height="4" fill="#4a4a4a"/>
<rect x="432.2" y="271.04" width="4" height="4" fill="#4a4a4a"/>
<rect x="440.95" y="269.62" width="4" height="4" fill="#4a4a4a"/>
<rect x="449.7" y="268.2" width="4" height="4" fill="#4a4a4a"/>
<rect x="458.45" y="266.78" width="4" height="4" fill="#4a4a4a"/>
<rect x="467.2" y="265.36" width="4" height="4" fill="#4a4a4a"/>
<rect x="475.95" y="263.94" width="4" height="4" fill="#4a4a4a"/>
<rect x="484.7" y="262.51" width="4" height="4" fill="#4a4a4a"/>
<rect x="493.45" y="261.09" width="4" height="4" fill="#4a4a4a"/>
<rect x="502.2" y="259.67" width="4" height="4" fill="#4a4a4a"/>
<rect x="510.95" y="258.25" width="4" height="4" fill="#4a4a4a"/>
<rect x="519.7" y="256.83" width="4" height="4" fill="#4a4a4a"/>
<line x1="346.7" y1="336.86" x2="521.7" y2="310.25" stroke="#8f8f00" stroke-width="2.6"/>
<path d="M346.7 334.06L347.41 335.88L349.36 335.99L347.84 337.23L348.35 339.12L346.7 338.06L345.05 339.12L345.56 337.23L344.04 335.99L345.99 335.88Z" fill="#8f8f00"/>
<path d="M355.45 332.72L356.16 334.55L358.11 334.66L356.59 335.9L357.1 337.79L355.45 336.72L353.8 337.79L354.31 335.9L352.79 334.66L354.74 334.55Z" fill="#8f8f00"/>
<path d="M364.2 331.39L364.91 333.22L366.86 333.33L365.34 334.56L365.85 336.46L364.2 335.39L362.55 336.46L363.06 334.56L361.54 333.33L363.49 333.22Z" fill="#8f8f00"/>
<path d="M372.95 330.06L373.66 331.89L375.61 332L374.09 333.23L374.6 335.13L372.95 334.06L371.3 335.13L371.81 333.23L370.29 332L372.24 331.89Z" fill="#8f8f00"/>
<path d="M381.7 328.73L382.41 330.56L384.36 330.67L382.84 331.9L383.35 333.8L381.7 332.73L380.05 333.8L380.56 331.9L379.04 330.67L380.99 330.56Z" fill="#8f8f00"/>
<path d="M390.45 327.4L391.16 329.23L393.11 329.34L391.59 330.57L392.1 332.47L390.45 331.4L388.8 332.47L389.31 330.57L387.79 329.34L389.74 329.23Z" fill="#8f8f00"/>
<path d="M399.2 326.07L399.91 327.9L401.86 328.01L400.34 329.24L400.85 331.14L399.2 330.07L397.55 331.14L398.06 329.24L396.54 328.01L398.49 327.9Z" fill="#8f8f00"/>
<path d="M407.95 324.74L408.66 326.57L410.61 326.68L409.09 327.91L409.6 329.81L407.95 328.74L406.3 329.81L406.81 327.91L405.29 326.68L407.24 326.57Z" fill="#8f8f00"/>
<path d="M416.7 323.41L417.41 325.24L419.36 325.35L417.84 326.58L418.35 328.48L416.7 327.41L415.05 328.48L415.56 326.58L414.04 325.35L415.99 325.24Z" fill="#8f8f00"/>
<path d="M425.45 322.08L426.16 323.91L428.11 324.02L426.59 325.25L427.1 327.15L425.45 326.08L423.8 327.15L424.31 325.25L422.79 324.02L424.74 323.91Z" fill="#8f8f00"/>
<path d="M434.2 320.75L434.91 322.58L436.86 322.69L435.34 323.92L435.85 325.82L434.2 324.75L432.55 325.82L433.06 323.92L431.54 322.69L433.49 322.58Z" fill="#8f8f00"/>
<path d="M442.95 319.42L443.66 321.25L445.61 321.35L444.09 322.59L444.6 324.49L442.95 323.42L441.3 324.49L441.81 322.59L440.29 321.35L442.24 321.25Z" fill="#8f8f00"/>
<path d="M451.7 318.09L452.41 319.92L454.36 320.02L452.84 321.26L453.35 323.15L451.7 322.09L450.05 323.15L450.56 321.26L449.04 320.02L450.99 319.92Z" fill="#8f8f00"/>
<path d="M460.45 316.76L461.16 318.59L463.11 318.69L461.59 319.93L462.1 321.82L460.45 320.76L458.8 321.82L459.31 319.93L457.79 318.69L459.74 318.59Z" fill="#8f8f00"/>
<path d="M469.2 315.43L469.91 317.26L471.86 317.36L470.34 318.6L470.85 320.49L469.2 319.43L467.55 320.49L468.06 318.6L466.54 317.36L468.49 317.26Z" fill="#8f8f00"/>
<path d="M477.95 314.1L478.66 315.93L480.61 316.03L479.09 317.27L479.6 319.16L477.95 318.1L476.3 319.16L476.81 317.27L475.29 316.03L477.24 315.93Z" fill="#8f8f00"/>
<path d="M486.7 312.77L487.41 314.6L489.36 314.7L487.84 315.94L488.35 317.83L486.7 316.77L485.05 317.83L485.56 315.94L484.04 314.7L485.99 314.6Z" fill="#8f8f00"/>
<path d="M495.45 311.44L496.16 313.27L498.11 313.37L496.59 314.61L497.1 316.5L495.45 315.44L493.8 316.5L494.31 314.61L492.79 313.37L494.74 313.27Z" fill="#8f8f00"/>
<path d="M504.2 310.11L504.91 311.94L506.86 312.04L505.34 313.28L505.85 315.17L504.2 314.11L502.55 315.17L503.06 313.28L501.54 312.04L503.49 311.94Z" fill="#8f8f00"/>
<path d="M512.95 308.78L513.66 310.61L515.61 310.71L514.09 311.95L514.6 313.84L512.95 312.78L511.3 313.84L511.81 311.95L510.29 310.71L512.24 310.61Z" fill="#8f8f00"/>
<path d="M521.7 307.45L522.41 309.28L524.36 309.38L522.84 310.62L523.35 312.51L521.7 311.45L520.05 312.51L520.56 310.62L519.04 309.38L520.99 309.28Z" fill="#8f8f00"/>
<line x1="346.7" y1="350.16" x2="521.7" y2="315.66" stroke="#f14040" stroke-width="2.6"/>
<circle cx="346.7" cy="350.16" r="2.2" fill="#f14040"/>
<circle cx="355.45" cy="348.43" r="2.2" fill="#f14040"/>
<circle cx="364.2" cy="346.71" r="2.2" fill="#f14040"/>
<circle cx="372.95" cy="344.98" r="2.2" fill="#f14040"/>
<circle cx="381.7" cy="343.26" r="2.2" fill="#f14040"/>
<circle cx="390.45" cy="341.53" r="2.2" fill="#f14040"/>
<circle cx="399.2" cy="339.81" r="2.2" fill="#f14040"/>
<circle cx="407.95" cy="338.08" r="2.2" fill="#f14040"/>
<circle cx="416.7" cy="336.36" r="2.2" fill="#f14040"/>
<circle cx="425.45" cy="334.63" r="2.2" fill="#f14040"/>
<circle cx="434.2" cy="332.91" r="2.2" fill="#f14040"/>
<circle cx="442.95" cy="331.18" r="2.2" fill="#f14040"/>
<circle cx="451.7" cy="329.46" r="2.2" fill="#f14040"/>
<circle cx="460.45" cy="327.73" r="2.2" fill="#f14040"/>
<circle cx="469.2" cy="326.01" r="2.2" fill="#f14040"/>
<circle cx="477.95" cy="324.28" r="2.2" fill="#f14040"/>
<circle cx="486.7" cy="322.56" r="2.2" fill="#f14040"/>
<circle cx="495.45" cy="320.83" r="2.2" fill="#f14040"/>
<circle cx="504.2" cy="319.11" r="2.2" fill="#f14040"/>
<circle cx="512.95" cy="317.38" r="2.2" fill="#f14040"/>
<circle cx="521.7" cy="315.66" r="2.2" fill="#f14040"/>
<line x1="346.7" y1="364.59" x2="521.7" y2="326.03" stroke="#1a6fdf" stroke-width="2.6"/>
<path d="M346.7 361.99L349.1 366.39L344.3 366.39Z" fill="#1a6fdf"/>
<path d="M355.45 360.06L357.85 364.46L353.05 364.46Z" fill="#1a6fdf"/>
<path d="M364.2 358.14L366.6 362.54L361.8 362.54Z" fill="#1a6fdf"/>
<path d="M372.95 356.21L375.35 360.61L370.55 360.61Z" fill="#1a6fdf"/>
<path d="M381.7 354.28L384.1 358.68L379.3 358.68Z" fill="#1a6fdf"/>
<path d="M390.45 352.35L392.85 356.75L388.05 356.75Z" fill="#1a6fdf"/>
<path d="M399.2 350.42L401.6 354.82L396.8 354.82Z" fill="#1a6fdf"/>
<path d="M407.95 348.5L410.35 352.9L405.55 352.9Z" fill="#1a6fdf"/>
<path d="M416.7 346.57L419.1 350.97L414.3 350.97Z" fill="#1a6fdf"/>
<path d="M425.45 344.64L427.85 349.04L423.05 349.04Z" fill="#1a6fdf"/>
<path d="M434.2 342.71L436.6 347.11L431.8 347.11Z" fill="#1a6fdf"/>
<path d="M442.95 340.78L445.35 345.18L440.55 345.18Z" fill="#1a6fdf"/>
<path d="M451.7 338.86L454.1 343.26L449.3 343.26Z" fill="#1a6fdf"/>
<path d="M460.45 336.93L462.85 341.33L458.05 341.33Z" fill="#1a6fdf"/>
<path d="M469.2 335L471.6 339.4L466.8 339.4Z" fill="#1a6fdf"/>
<path d="M477.95 333.07L480.35 337.47L475.55 337.47Z" fill="#1a6fdf"/>
<path d="M486.7 331.14L489.1 335.54L484.3 335.54Z" fill="#1a6fdf"/>
<path d="M495.45 329.22L497.85 333.62L493.05 333.62Z" fill="#1a6fdf"/>
<path d="M504.2 327.29L506.6 331.69L501.8 331.69Z" fill="#1a6fdf"/>
<path d="M512.95 325.36L515.35 329.76L510.55 329.76Z" fill="#1a6fdf"/>
<path d="M521.7 323.43L524.1 327.83L519.3 327.83Z" fill="#1a6fdf"/>
<line x1="346.7" y1="361.43" x2="521.7" y2="327.61" stroke="#37ad6b" stroke-width="2.6"/>
<path d="M346.7 364.03L349.1 359.63L344.3 359.63Z" fill="#37ad6b"/>
<path d="M355.45 362.34L357.85 357.94L353.05 357.94Z" fill="#37ad6b"/>
<path d="M364.2 360.65L366.6 356.25L361.8 356.25Z" fill="#37ad6b"/>
<path d="M372.95 358.96L375.35 354.56L370.55 354.56Z" fill="#37ad6b"/>
<path d="M381.7 357.27L384.1 352.87L379.3 352.87Z" fill="#37ad6b"/>
<path d="M390.45 355.58L392.85 351.18L388.05 351.18Z" fill="#37ad6b"/>
<path d="M399.2 353.89L401.6 349.49L396.8 349.49Z" fill="#37ad6b"/>
<path d="M407.95 352.2L410.35 347.8L405.55 347.8Z" fill="#37ad6b"/>
<path d="M416.7 350.5L419.1 346.1L414.3 346.1Z" fill="#37ad6b"/>
<path d="M425.45 348.81L427.85 344.41L423.05 344.41Z" fill="#37ad6b"/>
<path d="M434.2 347.12L436.6 342.72L431.8 342.72Z" fill="#37ad6b"/>
<path d="M442.95 345.43L445.35 341.03L440.55 341.03Z" fill="#37ad6b"/>
<path d="M451.7 343.74L454.1 339.34L449.3 339.34Z" fill="#37ad6b"/>
<path d="M460.45 342.05L462.85 337.65L458.05 337.65Z" fill="#37ad6b"/>
<path d="M469.2 340.36L471.6 335.96L466.8 335.96Z" fill="#37ad6b"/>
<path d="M477.95 338.67L480.35 334.27L475.55 334.27Z" fill="#37ad6b"/>
<path d="M486.7 336.97L489.1 332.57L484.3 332.57Z" fill="#37ad6b"/>
<path d="M495.45 335.28L497.85 330.88L493.05 330.88Z" fill="#37ad6b"/>
<path d="M504.2 333.59L506.6 329.19L501.8 329.19Z" fill="#37ad6b"/>
<path d="M512.95 331.9L515.35 327.5L510.55 327.5Z" fill="#37ad6b"/>
<path d="M521.7 330.21L524.1 325.81L519.3 325.81Z" fill="#37ad6b"/>
<line x1="346.7" y1="370.45" x2="521.7" y2="338.43" stroke="#e0a000" stroke-width="2.6"/>
<path d="M344.1 370.45L348.5 368.05L348.5 372.85Z" fill="#e0a000"/>
<path d="M352.85 368.85L357.25 366.45L357.25 371.25Z" fill="#e0a000"/>
<path d="M361.6 367.25L366 364.85L366 369.65Z" fill="#e0a000"/>
<path d="M370.35 365.65L374.75 363.25L374.75 368.05Z" fill="#e0a000"/>
<path d="M379.1 364.05L383.5 361.65L383.5 366.45Z" fill="#e0a000"/>
<path d="M387.85 362.45L392.25 360.05L392.25 364.85Z" fill="#e0a000"/>
<path d="M396.6 360.85L401 358.45L401 363.25Z" fill="#e0a000"/>
<path d="M405.35 359.25L409.75 356.85L409.75 361.65Z" fill="#e0a000"/>
<path d="M414.1 357.65L418.5 355.25L418.5 360.05Z" fill="#e0a000"/>
<path d="M422.85 356.05L427.25 353.65L427.25 358.45Z" fill="#e0a000"/>
<path d="M431.6 354.44L436 352.04L436 356.84Z" fill="#e0a000"/>
<path d="M440.35 352.84L444.75 350.44L444.75 355.24Z" fill="#e0a000"/>
<path d="M449.1 351.24L453.5 348.84L453.5 353.64Z" fill="#e0a000"/>
<path d="M457.85 349.64L462.25 347.24L462.25 352.04Z" fill="#e0a000"/>
<path d="M466.6 348.04L471 345.64L471 350.44Z" fill="#e0a000"/>
<path d="M475.35 346.44L479.75 344.04L479.75 348.84Z" fill="#e0a000"/>
<path d="M484.1 344.84L488.5 342.44L488.5 347.24Z" fill="#e0a000"/>
<path d="M492.85 343.24L497.25 340.84L497.25 345.64Z" fill="#e0a000"/>
<path d="M501.6 341.64L506 339.24L506 344.04Z" fill="#e0a000"/>
<path d="M510.35 340.03L514.75 337.63L514.75 342.43Z" fill="#e0a000"/>
<path d="M519.1 338.43L523.5 336.03L523.5 340.83Z" fill="#e0a000"/>
<line x1="346.7" y1="376.99" x2="521.7" y2="341.37" stroke="#b177de" stroke-width="2.6"/>
<path d="M346.7 374.39L348.9 376.99L346.7 379.59L344.5 376.99Z" fill="#b177de"/>
<path d="M355.45 372.61L357.65 375.21L355.45 377.81L353.25 375.21Z" fill="#b177de"/>
<path d="M364.2 370.83L366.4 373.43L364.2 376.03L362 373.43Z" fill="#b177de"/>
<path d="M372.95 369.05L375.15 371.65L372.95 374.25L370.75 371.65Z" fill="#b177de"/>
<path d="M381.7 367.27L383.9 369.87L381.7 372.47L379.5 369.87Z" fill="#b177de"/>
<path d="M390.45 365.49L392.65 368.09L390.45 370.69L388.25 368.09Z" fill="#b177de"/>
<path d="M399.2 363.71L401.4 366.31L399.2 368.91L397 366.31Z" fill="#b177de"/>
<path d="M407.95 361.92L410.15 364.52L407.95 367.12L405.75 364.52Z" fill="#b177de"/>
<path d="M416.7 360.14L418.9 362.74L416.7 365.34L414.5 362.74Z" fill="#b177de"/>
<path d="M425.45 358.36L427.65 360.96L425.45 363.56L423.25 360.96Z" fill="#b177de"/>
<path d="M434.2 356.58L436.4 359.18L434.2 361.78L432 359.18Z" fill="#b177de"/>
<path d="M442.95 354.8L445.15 357.4L442.95 360L440.75 357.4Z" fill="#b177de"/>
<path d="M451.7 353.02L453.9 355.62L451.7 358.22L449.5 355.62Z" fill="#b177de"/>
<path d="M460.45 351.24L462.65 353.84L460.45 356.44L458.25 353.84Z" fill="#b177de"/>
<path d="M469.2 349.45L471.4 352.05L469.2 354.65L467 352.05Z" fill="#b177de"/>
<path d="M477.95 347.67L480.15 350.27L477.95 352.87L475.75 350.27Z" fill="#b177de"/>
<path d="M486.7 345.89L488.9 348.49L486.7 351.09L484.5 348.49Z" fill="#b177de"/>
<path d="M495.45 344.11L497.65 346.71L495.45 349.31L493.25 346.71Z" fill="#b177de"/>
<path d="M504.2 342.33L506.4 344.93L504.2 347.53L502 344.93Z" fill="#b177de"/>
<path d="M512.95 340.55L515.15 343.15L512.95 345.75L510.75 343.15Z" fill="#b177de"/>
<path d="M521.7 338.76L523.9 341.37L521.7 343.97L519.5 341.37Z" fill="#b177de"/>
<line x1="346.7" y1="383.08" x2="521.7" y2="347.45" stroke="#00cbcc" stroke-width="2.6"/>
<path d="M349.3 383.08L344.9 380.68L344.9 385.48Z" fill="#00cbcc"/>
<path d="M358.05 381.3L353.65 378.9L353.65 383.7Z" fill="#00cbcc"/>
<path d="M366.8 379.52L362.4 377.12L362.4 381.92Z" fill="#00cbcc"/>
<path d="M375.55 377.74L371.15 375.34L371.15 380.14Z" fill="#00cbcc"/>
<path d="M384.3 375.96L379.9 373.56L379.9 378.36Z" fill="#00cbcc"/>
<path d="M393.05 374.18L388.65 371.78L388.65 376.58Z" fill="#00cbcc"/>
<path d="M401.8 372.39L397.4 369.99L397.4 374.79Z" fill="#00cbcc"/>
<path d="M410.55 370.61L406.15 368.21L406.15 373.01Z" fill="#00cbcc"/>
<path d="M419.3 368.83L414.9 366.43L414.9 371.23Z" fill="#00cbcc"/>
<path d="M428.05 367.05L423.65 364.65L423.65 369.45Z" fill="#00cbcc"/>
<path d="M436.8 365.27L432.4 362.87L432.4 367.67Z" fill="#00cbcc"/>
<path d="M445.55 363.49L441.15 361.09L441.15 365.89Z" fill="#00cbcc"/>
<path d="M454.3 361.71L449.9 359.31L449.9 364.11Z" fill="#00cbcc"/>
<path d="M463.05 359.92L458.65 357.52L458.65 362.32Z" fill="#00cbcc"/>
<path d="M471.8 358.14L467.4 355.74L467.4 360.54Z" fill="#00cbcc"/>
<path d="M480.55 356.36L476.15 353.96L476.15 358.76Z" fill="#00cbcc"/>
<path d="M489.3 354.58L484.9 352.18L484.9 356.98Z" fill="#00cbcc"/>
<path d="M498.05 352.8L493.65 350.4L493.65 355.2Z" fill="#00cbcc"/>
<path d="M506.8 351.02L502.4 348.62L502.4 353.42Z" fill="#00cbcc"/>
<path d="M515.55 349.23L511.15 346.83L511.15 351.63Z" fill="#00cbcc"/>
<path d="M524.3 347.45L519.9 345.05L519.9 349.85Z" fill="#00cbcc"/>
<line x1="346.7" y1="398.42" x2="521.7" y2="358.05" stroke="#7d4e4e" stroke-width="2.6"/>
<circle cx="346.7" cy="398.42" r="2.2" fill="#7d4e4e"/>
<circle cx="355.45" cy="396.4" r="2.2" fill="#7d4e4e"/>
<circle cx="364.2" cy="394.38" r="2.2" fill="#7d4e4e"/>
<circle cx="372.95" cy="392.36" r="2.2" fill="#7d4e4e"/>
<circle cx="381.7" cy="390.34" r="2.2" fill="#7d4e4e"/>
<circle cx="390.45" cy="388.33" r="2.2" fill="#7d4e4e"/>
<circle cx="399.2" cy="386.31" r="2.2" fill="#7d4e4e"/>
<circle cx="407.95" cy="384.29" r="2.2" fill="#7d4e4e"/>
<circle cx="416.7" cy="382.27" r="2.2" fill="#7d4e4e"/>
<circle cx="425.45" cy="380.25" r="2.2" fill="#7d4e4e"/>
<circle cx="434.2" cy="378.23" r="2.2" fill="#7d4e4e"/>
<circle cx="442.95" cy="376.22" r="2.2" fill="#7d4e4e"/>
<circle cx="451.7" cy="374.2" r="2.2" fill="#7d4e4e"/>
<circle cx="460.45" cy="372.18" r="2.2" fill="#7d4e4e"/>
<circle cx="469.2" cy="370.16" r="2.2" fill="#7d4e4e"/>
<circle cx="477.95" cy="368.14" r="2.2" fill="#7d4e4e"/>
<circle cx="486.7" cy="366.12" r="2.2" fill="#7d4e4e"/>
<circle cx="495.45" cy="364.11" r="2.2" fill="#7d4e4e"/>
<circle cx="504.2" cy="362.09" r="2.2" fill="#7d4e4e"/>
<circle cx="512.95" cy="360.07" r="2.2" fill="#7d4e4e"/>
<circle cx="521.7" cy="358.05" r="2.2" fill="#7d4e4e"/>
<rect x="327.3" y="228.7" width="4.6" height="4.6" fill="#4a4a4a"/>
<text x="342.6" y="234.3" font-size="9" fill="#333" stroke="#333" stroke-width="0.35" text-anchor="start" font-weight="normal" >390 nm</text>
<circle cx="385.6" cy="231" r="2.53" fill="#f14040"/>
<text x="398.6" y="234.3" font-size="9" fill="#333" stroke="#333" stroke-width="0.35" text-anchor="start" font-weight="normal" >405 nm</text>
<path d="M441.6 228.01L444.36 233.07L438.84 233.07Z" fill="#1a6fdf"/>
<text x="454.6" y="234.3" font-size="9" fill="#333" stroke="#333" stroke-width="0.35" text-anchor="start" font-weight="normal" >460 nm</text>
<path d="M497.6 233.99L500.36 228.93L494.84 228.93Z" fill="#37ad6b"/>
<text x="510.6" y="234.3" font-size="9" fill="#333" stroke="#333" stroke-width="0.35" text-anchor="start" font-weight="normal" >470 nm</text>
<path d="M329.6 239.31L332.13 242.3L329.6 245.29L327.07 242.3Z" fill="#b177de"/>
<text x="342.6" y="245.6" font-size="9" fill="#333" stroke="#333" stroke-width="0.35" text-anchor="start" font-weight="normal" >490 nm</text>
<path d="M382.61 242.3L387.67 239.54L387.67 245.06Z" fill="#e0a000"/>
<text x="398.6" y="245.6" font-size="9" fill="#333" stroke="#333" stroke-width="0.35" text-anchor="start" font-weight="normal" >500 nm</text>
<path d="M444.59 242.3L439.53 239.54L439.53 245.06Z" fill="#00cbcc"/>
<text x="454.6" y="245.6" font-size="9" fill="#333" stroke="#333" stroke-width="0.35" text-anchor="start" font-weight="normal" >587 nm</text>
<circle cx="497.6" cy="242.3" r="2.53" fill="#7d4e4e"/>
<text x="510.6" y="245.6" font-size="9" fill="#333" stroke="#333" stroke-width="0.35" text-anchor="start" font-weight="normal" >636 nm</text>
<path d="M329.6 250.38L330.41 252.48L332.66 252.6L330.91 254.03L331.49 256.21L329.6 254.98L327.71 256.21L328.29 254.03L326.54 252.6L328.79 252.48Z" fill="#8f8f00"/>
<text x="342.6" y="256.9" font-size="9" fill="#333" stroke="#333" stroke-width="0.35" text-anchor="start" font-weight="normal" >White light</text>
<text x="530.5" y="295.3" font-size="17.5" fill="#0c0ce8" stroke="#0c0ce8" stroke-width="0" text-anchor="middle" font-weight="bold" >(d)</text>
</svg>
</body></html>
